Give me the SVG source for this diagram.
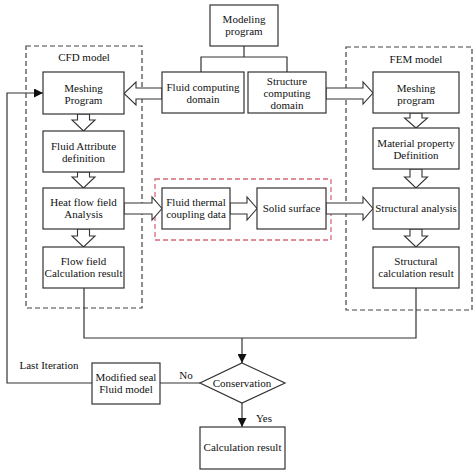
<svg xmlns="http://www.w3.org/2000/svg" width="474" height="474" viewBox="0 0 474 474">
<defs>
<style>
.box{fill:#fff;stroke:#333;stroke-width:1.2}
.dash{fill:none;stroke:#444;stroke-width:1.2;stroke-dasharray:5 3}
.red{fill:none;stroke:#d96a7a;stroke-width:1.3;stroke-dasharray:5 3}
.ha{fill:#fff;stroke:#333;stroke-width:1.1}
.ln{fill:none;stroke:#333;stroke-width:1.2}
text{font-family:"Liberation Serif","Times New Roman",serif;font-size:11px;fill:#111;text-anchor:middle}
</style>
<marker id="ah" viewBox="0 0 10 10" refX="10" refY="5" markerWidth="9" markerHeight="9" markerUnits="userSpaceOnUse" orient="auto">
<path d="M0,0 L10,5 L0,10 z" fill="#111"/>
</marker>
</defs>
<rect width="474" height="474" fill="#fff"/>

<g id="cfd-group">
<rect class="dash" x="26" y="46" width="116" height="262"/>
<text x="84" y="61" font-size="12">CFD model</text>
</g>
<g id="fem-group">
<rect class="dash" x="346" y="47" width="126" height="263"/>
<text x="416" y="63" font-size="12">FEM model</text>
</g>
<g id="coupling-group">
<rect class="red" x="155" y="179" width="176" height="61"/>
</g>

<g id="connectors">
<path class="ln" d="M244,46 V57 M201,72 V57 H287 V72"/>
<polygon class="ha" points="162,88 136,88 136,82 124,93.5 136,105 136,99 162,99"/>
<polygon class="ha" points="326,88 363,88 363,82 373,93 363,104 363,99 326,99"/>
<polygon class="ha" points="124,203 152,203 152,197 162,208.5 152,220 152,214 124,214"/>
<polygon class="ha" points="230,203 247,203 247,197 257,208.5 247,220 247,214 230,214"/>
<polygon class="ha" points="326,203 363,203 363,197 373,208.5 363,220 363,214 326,214"/>
<polygon class="ha" points="77.5,114 89.5,114 89.5,120 95,120 83.5,131 72,120 77.5,120"/>
<polygon class="ha" points="77.5,172 89.5,172 89.5,177 95,177 83.5,188 72,177 77.5,177"/>
<polygon class="ha" points="77.5,229 89.5,229 89.5,236 95,236 83.5,247 72,236 77.5,236"/>
<polygon class="ha" points="410,113 422,113 422,118 427.5,118 416,128 404.5,118 410,118"/>
<polygon class="ha" points="410,169 422,169 422,177 427.5,177 416,188 404.5,177 410,177"/>
<polygon class="ha" points="410,229 422,229 422,236 427.5,236 416,247 404.5,236 410,236"/>
<path class="ln" d="M84,288 V338 H416 V288"/>
<path class="ln" d="M242,338 V363" marker-end="url(#ah)"/>
<path class="ln" d="M242,403 V427" marker-end="url(#ah)"/>
<path class="ln" d="M200,383 H160"/>
<path class="ln" d="M92,383 H7 V93 H43" marker-end="url(#ah)"/>
<text x="186" y="379" font-size="12">No</text>
<text x="264" y="422" font-size="12">Yes</text>
<text x="49" y="369" font-size="12">Last Iteration</text>
</g>

<g id="modeling-program">
<rect class="box" x="210" y="5" width="68" height="41"/>
<text x="244" y="23">Modeling</text>
<text x="244" y="35">program</text>
</g>
<g id="fluid-domain">
<rect class="box" x="162" y="72" width="82" height="41"/>
<text x="203" y="91">Fluid computing</text>
<text x="203" y="103">domain</text>
</g>
<g id="structure-domain">
<rect class="box" x="248" y="72" width="78" height="41"/>
<text x="287" y="85">Structure</text>
<text x="287" y="97">computing</text>
<text x="287" y="109">domain</text>
</g>
<g id="cfd-meshing">
<rect class="box" x="43" y="72" width="81" height="42"/>
<text x="83.5" y="92">Meshing</text>
<text x="83.5" y="104">Program</text>
</g>
<g id="fluid-attribute">
<rect class="box" x="43" y="131" width="81" height="41"/>
<text x="83.5" y="150">Fluid Attribute</text>
<text x="83.5" y="162">definition</text>
</g>
<g id="heat-flow">
<rect class="box" x="43" y="188" width="81" height="41"/>
<text x="83.5" y="206">Heat flow field</text>
<text x="83.5" y="218">Analysis</text>
</g>
<g id="flow-result">
<rect class="box" x="43" y="247" width="81" height="41"/>
<text x="83.5" y="265">Flow field</text>
<text x="83.5" y="277">Calculation result</text>
</g>
<g id="fluid-thermal">
<rect class="box" x="162" y="188" width="68" height="41"/>
<text x="196" y="206">Fluid thermal</text>
<text x="196" y="218">coupling data</text>
</g>
<g id="solid-surface">
<rect class="box" x="257" y="188" width="69" height="41"/>
<text x="291.5" y="212">Solid surface</text>
</g>
<g id="fem-meshing">
<rect class="box" x="373" y="72" width="86" height="41"/>
<text x="416" y="92">Meshing</text>
<text x="416" y="104">program</text>
</g>
<g id="material-property">
<rect class="box" x="373" y="128" width="86" height="41"/>
<text x="416" y="147">Material property</text>
<text x="416" y="159">Definition</text>
</g>
<g id="structural-analysis">
<rect class="box" x="373" y="188" width="86" height="41"/>
<text x="416" y="212">Structural analysis</text>
</g>
<g id="structural-result">
<rect class="box" x="373" y="247" width="86" height="41"/>
<text x="416" y="265">Structural</text>
<text x="416" y="277">calculation result</text>
</g>
<g id="conservation">
<polygon class="box" points="242,363 285,383 242,403 200,383"/>
<text x="242" y="387">Conservation</text>
</g>
<g id="modified-seal">
<rect class="box" x="92" y="363" width="68" height="41"/>
<text x="126" y="381">Modified seal</text>
<text x="126" y="393">Fluid model</text>
</g>
<g id="calc-result">
<rect class="box" x="200" y="427" width="85" height="42"/>
<text x="242.5" y="451">Calculation result</text>
</g>
</svg>
